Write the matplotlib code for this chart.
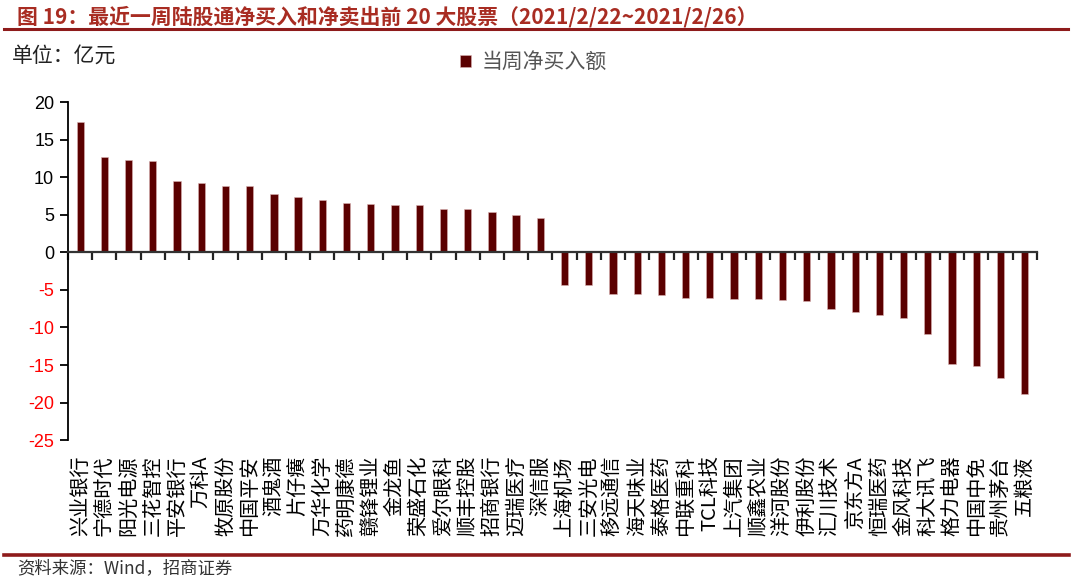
import numpy as np
import matplotlib
matplotlib.use("Agg")
import matplotlib.pyplot as plt
from matplotlib.lines import Line2D

plt.rcParams['font.family'] = ['Noto Sans CJK SC', 'DejaVu Sans']

# data: weekly net buy (亿元), top 20 buys then top 20 sells
stocks = [
    "兴业银行", "宁德时代", "阳光电源", "三花智控", "平安银行",
    "万科A", "牧原股份", "中国平安", "酒鬼酒", "片仔癀",
    "万华化学", "药明康德", "赣锋锂业", "金龙鱼", "荣盛石化",
    "爱尔眼科", "顺丰控股", "招商银行", "迈瑞医疗", "深信服",
    "上海机场", "三安光电", "移远通信", "海天味业", "泰格医药",
    "中联重科", "TCL科技", "上汽集团", "顺鑫农业", "洋河股份",
    "伊利股份", "汇川技术", "京东方A", "恒瑞医药", "金风科技",
    "科大讯飞", "格力电器", "中国中免", "贵州茅台", "五粮液",
]
net_buy = [
    17.3, 12.7, 12.3, 12.2, 9.5,
    9.2, 8.8, 8.8, 7.8, 7.3,
    7.0, 6.5, 6.4, 6.35, 6.3,
    5.8, 5.8, 5.4, 5.0, 4.6,
    -4.4, -4.4, -5.5, -5.6, -5.7,
    -6.1, -6.1, -6.2, -6.2, -6.4,
    -6.5, -7.6, -8.0, -8.4, -8.7,
    -10.9, -14.9, -15.1, -16.7, -18.8,
]
yticks = [20, 15, 10, 5, 0, -5, -10, -15, -20, -25]

bar_color = "#5B0000"
line_color = "#8E1B1B"
title_color = "#A82C22"

fig = plt.figure(figsize=(10.8, 5.83), dpi=100)
ax = fig.add_axes([0.063, 0.245, 0.897, 0.58])

x = np.arange(len(stocks))
bars = ax.bar(x, net_buy, width=0.3, color=bar_color, edgecolor="#D9B3B3",
              linewidth=0.4, label="当周净买入额", zorder=2)

ax.set_xlim(-0.5, len(stocks) - 0.5)
ax.set_ylim(-25, 20)
ax.set_yticks(yticks)
ax.set_yticklabels([str(v) for v in yticks], family="Liberation Sans", fontsize=13)
for lab, v in zip(ax.get_yticklabels(), yticks):
    lab.set_color("red" if v < 0 else "black")
ax.tick_params(axis="y", direction="out", length=6, width=1.3, pad=4)

# x axis line at zero, ticks at category boundaries
ax.spines["top"].set_visible(False)
ax.spines["right"].set_visible(False)
ax.spines["left"].set_linewidth(1.3)
ax.spines["bottom"].set_position(("data", 0))
ax.spines["bottom"].set_linewidth(1.6)
ax.spines["bottom"].set_color("#333333")
ax.set_xticks(np.arange(-0.5, len(stocks), 1.0))
ax.set_xticklabels([])
ax.tick_params(axis="x", direction="out", length=6, width=1.6, color="#222222")

# category labels below the plot, vertical
for xi, name in zip(x, stocks):
    ax.text(xi, -27.0, name, rotation=90, ha="center", va="top",
            fontsize=14.5, color="black")

ax.legend(loc="upper left", bbox_to_anchor=(0.385, 1.205), frameon=False,
          fontsize=15, handlelength=0.55, handleheight=0.55, handletextpad=0.5,
          labelcolor="#555555")

fig.text(0.011, 0.905, "单位：亿元", fontsize=15, va="center", color="#222222")

fig.text(0.016, 0.972,
         "图 19：最近一周陆股通净买入和净卖出前 20 大股票（2021/2/22~2021/2/26）",
         fontsize=15, fontweight="bold", color=title_color, va="center")
fig.add_artist(Line2D([0.004, 0.989], [0.950, 0.950], color=line_color, lw=2.2))
fig.add_artist(Line2D([0.004, 0.99], [0.048, 0.048], color=line_color, lw=2.6))
fig.text(0.016, 0.025, "资料来源：Wind，招商证券", fontsize=12.5, va="center",
         color="#333333")

fig.savefig("out.png", dpi=100)
